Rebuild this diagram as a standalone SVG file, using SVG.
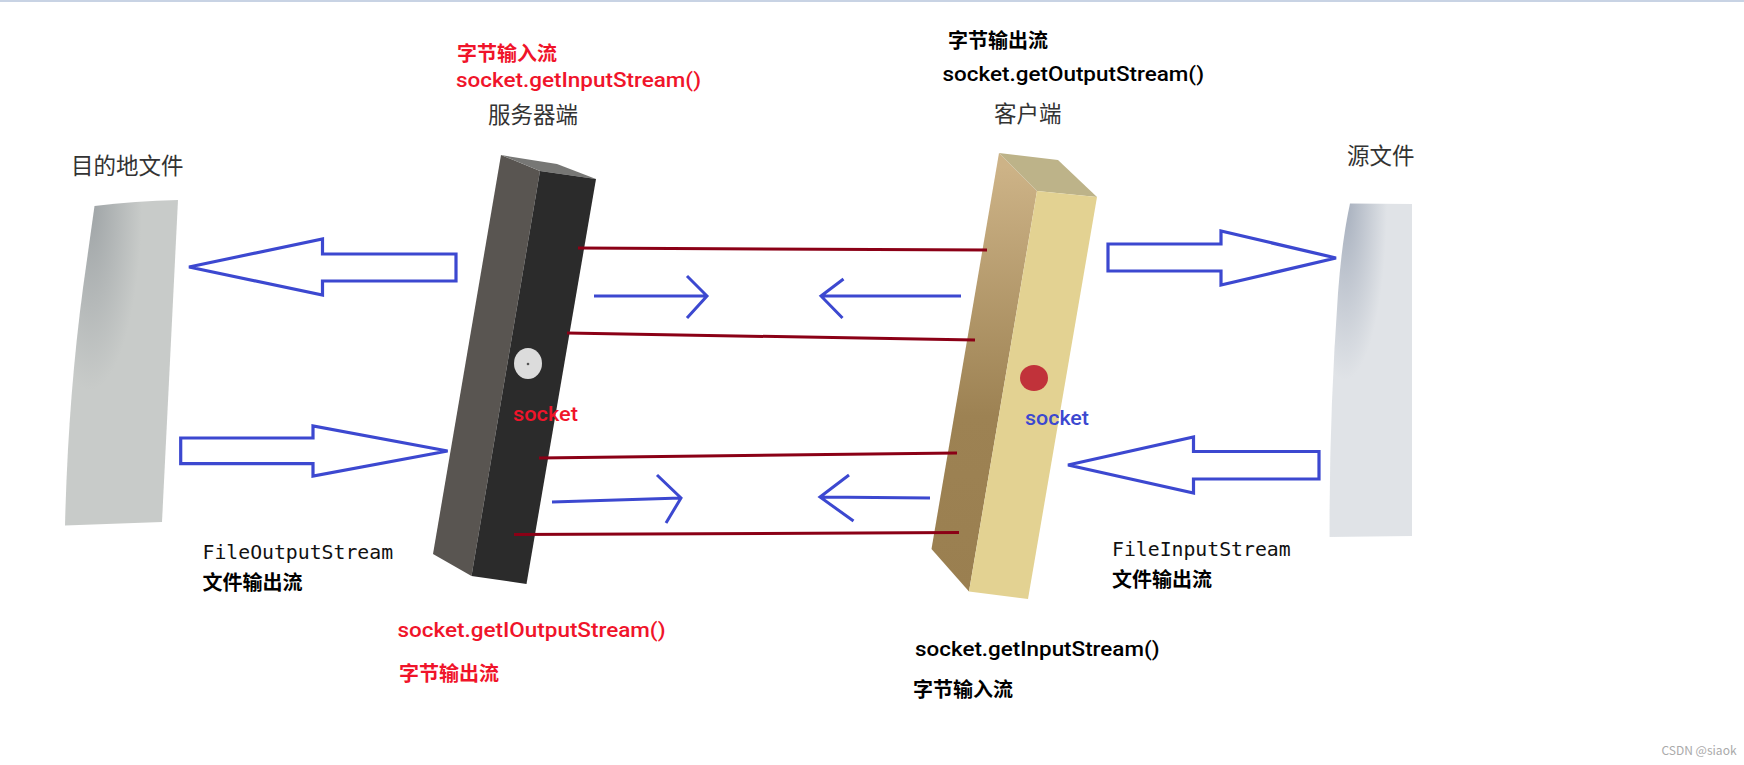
<svg xmlns="http://www.w3.org/2000/svg" width="1744" height="765" viewBox="0 0 1744 765">
<style>
text{font-family:"Noto Sans CJK SC","Liberation Sans",sans-serif}
.cap{font-size:22.5px;fill:#333}
.b{font-size:20px;font-weight:700}
.lat{font-family:Roboto,"Liberation Sans",sans-serif;font-size:21px;font-weight:500}
.red{fill:#f0142a}.blk{fill:#000}.blu{fill:#3c48d0}
.mono{font-family:"DejaVu Sans Mono",monospace;font-size:19.8px;fill:#111}
.wire{fill:none;stroke:#8b0016;stroke-width:3}
.flow{fill:none;stroke:#3c48d0;stroke-width:3;stroke-linejoin:miter}
.big{fill:#fff;stroke:#3c48d0;stroke-width:3.2}
</style>
<defs>
<radialGradient id="gDest" gradientUnits="userSpaceOnUse" cx="0" cy="0" r="1" gradientTransform="translate(90 200) scale(52 190)"><stop offset="0.1" stop-color="#a2a7a9"/><stop offset="1" stop-color="#c8cbc9"/></radialGradient>
<radialGradient id="gSrc" gradientUnits="userSpaceOnUse" cx="0" cy="0" r="1" gradientTransform="translate(1345 200) scale(42 180)"><stop offset="0.12" stop-color="#adb5c2"/><stop offset="1" stop-color="#e0e3e7"/></radialGradient>
<linearGradient id="gClient" x1="0.5" y1="0" x2="0.5" y2="1"><stop offset="0.03" stop-color="#cdb387"/><stop offset="0.6" stop-color="#9d8253"/><stop offset="1" stop-color="#9a7f50"/></linearGradient>
</defs>
<rect width="1744" height="765" fill="#fff"/>
<rect width="1744" height="2" fill="#c8d3e4"/>
<g id="dest-file"><path d="M94.5 206Q135 201 178 200L162 522L65 525.5Q68 400 83 288Z" fill="url(#gDest)"/><text class="cap" x="71" y="174">目的地文件</text></g>
<g id="server">
<polygon points="501,155 540,171 471.5,576 433,554" fill="#595551"/>
<polygon points="501,155 557,164 596,179 540,171" fill="#777775"/>
<polygon points="540,171 596,179 526.5,584 471.5,576" fill="#2b2b2b"/>
<ellipse cx="528" cy="363.5" rx="14" ry="15.5" fill="#dcdcdc"/><circle cx="528" cy="364" r="1.3" fill="#555"/>
<text class="cap" x="488" y="123">服务器端</text>
<text class="b red" x="457" y="61">字节输入流</text>
<text class="lat red" x="456" y="86.5" textLength="245" lengthAdjust="spacingAndGlyphs">socket.getInputStream()</text>
<text class="lat red" x="513" y="421" textLength="65" lengthAdjust="spacingAndGlyphs">socket</text>
<text class="lat red" x="397.5" y="637" textLength="268" lengthAdjust="spacingAndGlyphs">socket.getIOutputStream()</text>
<text class="b red" x="399" y="681">字节输出流</text>
</g>
<g id="client">
<polygon points="999,153 1037,191 969,591.5 931.5,549" fill="url(#gClient)"/>
<polygon points="999,153 1058,160 1097,197 1037,191" fill="#bdb389"/>
<polygon points="1037,191 1097,197 1028,599 969,591.5" fill="#e3d292"/>
<ellipse cx="1034" cy="378" rx="14" ry="13" fill="#c1323a"/>
<text class="cap" x="994" y="122">客户端</text>
<text class="b blk" x="948" y="48">字节输出流</text>
<text class="lat blk" x="942.5" y="80.5" textLength="261.5" lengthAdjust="spacingAndGlyphs">socket.getOutputStream()</text>
<text class="lat blu" x="1025" y="424.5" textLength="64" lengthAdjust="spacingAndGlyphs">socket</text>
<text class="lat blk" x="915" y="656" textLength="244.5" lengthAdjust="spacingAndGlyphs">socket.getInputStream()</text>
<text class="b blk" x="913" y="697">字节输入流</text>
</g>
<g id="source-file"><path d="M1350 203.5L1412 204V536L1329.6 537Q1329 420 1338 293Q1342 240 1350 203.5Z" fill="url(#gSrc)"/><text class="cap" x="1347" y="164">源文件</text></g>
<g id="connectors">
<polygon class="big" points="189,267 322.5,239 322.5,254 456,254 456,281 322.5,281 322.5,295"/>
<polygon class="big" points="180.7,438 313,438 313,426 447.6,451 313,476 313,463.6 180.7,463.6"/>
<polygon class="big" points="1108,244 1221,244 1221,231 1336,258 1221,285 1221,271 1108,271"/>
<polygon class="big" points="1068,465 1193.5,437 1193.5,451.5 1319,451.5 1319,479 1193.5,479 1193.5,493"/>
<path class="wire" d="M578 248L987 250"/>
<path class="wire" d="M567 333L975 340"/>
<path class="wire" d="M539 458L957 453"/>
<path class="wire" d="M514 534.5L959 532.5"/>
<path class="flow" d="M594 296H707M687 276L707 296L687 318"/>
<path class="flow" d="M961 296H821M843.5 279L821 296L842.5 318"/>
<path class="flow" d="M552 502L681 498M657 475L681 498L666 523"/>
<path class="flow" d="M930 498L820 497M849 475L820 497L853.5 521"/>
</g>
<g id="labels">
<text class="mono" x="202.5" y="559">FileOutputStream</text>
<text class="b blk" x="202.5" y="589.5">文件输出流</text>
<text class="mono" x="1112" y="556">FileInputStream</text>
<text class="b blk" x="1112" y="587">文件输出流</text>
<text x="1661.5" y="755" font-size="12" fill="#aaa">CSDN @siaok</text>
</g>
</svg>
